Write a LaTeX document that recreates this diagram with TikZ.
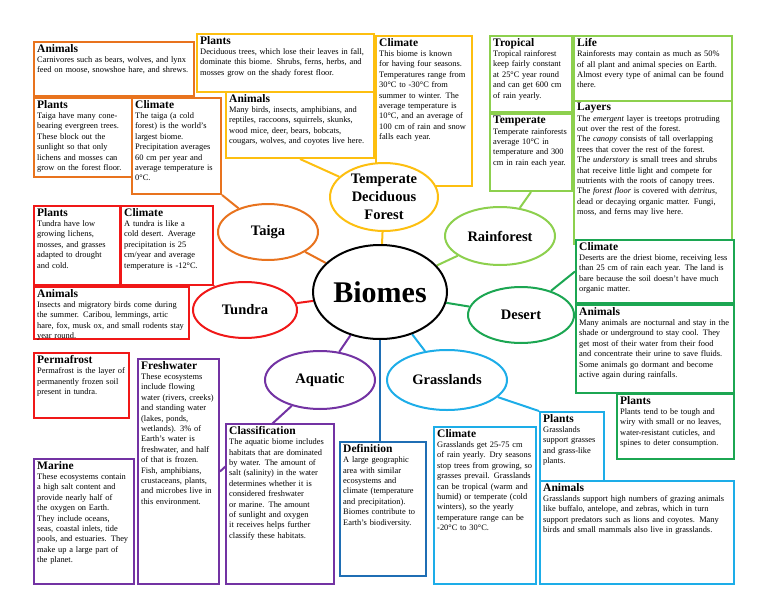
\documentclass[tikz,border=0pt]{standalone}
\usepackage{fontspec}
\setmainfont{Liberation Serif}
\usetikzlibrary{shapes.geometric,backgrounds}
\definecolor{cor}{HTML}{E8731E}
\definecolor{cye}{HTML}{FDBF10}
\definecolor{clg}{HTML}{8DD04E}
\definecolor{cre}{HTML}{F01818}
\definecolor{cpu}{HTML}{7333A3}
\definecolor{cbl}{HTML}{1DADE8}
\definecolor{cdb}{HTML}{1F6EB4}
\definecolor{cdg}{HTML}{1CA652}
\tikzset{
 box/.style={line width=2pt,inner sep=0pt,fill=white},
 txt/.style={inner sep=0pt,align=left,font=\fontsize{8.4}{10.4}\selectfont},
 biome/.style={ellipse,draw,line width=2pt,fill=white,font=\fontsize{14.5}{18}\selectfont\bfseries,align=center,inner sep=0pt},
 link/.style={line width=2pt}
}
\newcommand\ttl[1]{{\fontsize{11.5}{13}\selectfont\bfseries #1}\par}
\newcommand\bx[8]{%
 \node[box,draw=#2,minimum width=#5pt,minimum height=#6pt,anchor=north west] (#1) at (#3,#4) {};
 \node[txt,text width=\dimexpr#5pt-7pt\relax,anchor=north west] at ([xshift=4pt,yshift=-3pt]#1.north west) {\raggedright\lefthyphenmin=64 \righthyphenmin=64 \ttl{#7}#8};}
\begin{document}
\begin{tikzpicture}[x=1pt,y=-1pt]
\useasboundingbox (0,0) rectangle (768,594);
% boxes
\bx{taA}{cor}{33}{41}{160}{54}{Animals}{Carnivores such as bears, wolves, and lynx feed on moose, snowshoe hare, and shrews.}
\bx{taP}{cor}{33}{97}{98}{79}{Plants}{Taiga have many cone-bearing evergreen trees. These block out the sunlight so that only lichens and mosses can grow on the forest floor.}
\bx{taC}{cor}{131}{97}{89}{96}{Climate}{The taiga (a cold forest) is the world's largest biome. Precipitation averages 60 cm per year and average temperature is 0°C.}
\bx{tdP}{cye}{196}{33}{177}{58}{Plants}{Deciduous trees, which lose their leaves in fall, dominate this biome. Shrubs, ferns, herbs, and mosses grow on the shady forest floor.}
\bx{tdA}{cye}{225}{91}{148}{66}{Animals}{Many birds, insects, amphibians, and reptiles, raccoons, squirrels, skunks, wood mice, deer, bears, bobcats, cougars, wolves, and coyotes live here.}
\bx{tdC}{cye}{375}{35}{96}{150}{Climate}{This biome is known for having four seasons. Temperatures range from 30°C to -30°C from summer to winter. The average temperature is 10°C, and an average of 100 cm of rain and snow falls each year.}
\bx{rfT}{clg}{489}{35}{82}{76}{Tropical}{Tropical rainforest keep fairly constant at 25°C year round and can get 600 cm of rain yearly.}
\bx{rfL}{clg}{573}{35}{158}{65}{Life}{Rainforests may contain as much as 50\% of all plant and animal species on Earth. Almost every type of animal can be found there.}
\bx{rfTe}{clg}{489}{113}{82}{77}{Temperate}{Temperate rainforests average 10°C in temperature and 300 cm in rain each year.}
\bx{rfLa}{clg}{573}{100}{158}{143}{Layers}{The \emph{emergent} layer is treetops protruding out over the rest of the forest.\\The \emph{canopy} consists of tall overlapping trees that cover the rest of the forest.\\The \emph{understory} is small trees and shrubs that receive little light and compete for nutrients with the roots of canopy trees.\\The \emph{forest floor} is covered with \emph{detritus}, dead or decaying organic matter. Fungi, moss, and ferns may live here.}
\bx{tuP}{cre}{33}{205}{86}{79}{Plants}{Tundra have low growing lichens, mosses, and grasses adapted to drought and cold.}
\bx{tuC}{cre}{120}{205}{92}{79}{Climate}{A tundra is like a cold desert. Average precipitation is 25 cm/year and average temperature is -12°C.}
\bx{tuA}{cre}{33}{286}{155}{52}{Animals}{Insects and migratory birds come during the summer. Caribou, lemmings, artic hare, fox, musk ox, and small rodents stay year round.}
\bx{tuPe}{cre}{33}{352}{95}{65}{Permafrost}{Permafrost is the layer of permanently frozen soil present in tundra.}
\bx{aqM}{cpu}{33}{458}{100}{125}{Marine}{These ecosystems contain a high salt content and provide nearly half of the oxygen on Earth. They include oceans, seas, coastal inlets, tide pools, and estuaries. They make up a large part of the planet.}
\bx{aqF}{cpu}{137}{358}{81}{225}{Freshwater}{These ecosystems include flowing water (rivers, creeks) and standing water (lakes, ponds, wetlands). 3\% of Earth's water is freshwater, and half of that is frozen. Fish, amphibians, crustaceans, plants, and microbes live in this environment.}
\bx{aqC}{cpu}{225}{423}{108}{160}{Classification}{The aquatic biome includes habitats that are dominated by water. The amount of salt (salinity) in the water determines whether it is considered freshwater or marine. The amount of sunlight and oxygen it receives helps further classify these habitats.}
\bx{def}{cdb}{339}{441}{86}{134}{Definition}{A large geographic area with similar ecosystems and climate (temperature and precipitation). Biomes contribute to Earth's biodiversity.}
\bx{grC}{cbl}{433}{426}{102}{157}{Climate}{Grasslands get 25-75 cm of rain yearly. Dry seasons stop trees from growing, so grasses prevail. Grasslands can be tropical (warm and humid) or temperate (cold winters), so the yearly temperature range can be -20°C to 30°C.}
\bx{grP}{cbl}{539}{411}{64}{69}{Plants}{Grasslands support grasses and grass-like plants.}
\bx{grA}{cbl}{539}{480}{194}{103}{Animals}{Grasslands support high numbers of grazing animals like buffalo, antelope, and zebras, which in turn support predators such as lions and coyotes. Many birds and small mammals also live in grasslands.}
\bx{deP}{cdg}{616}{393}{117}{65}{Plants}{Plants tend to be tough and wiry with small or no leaves, water-resistant cuticles, and spines to deter consumption.}
\bx{deC}{cdg}{575}{239}{158}{63}{Climate}{Deserts are the driest biome, receiving less than 25 cm of rain each year. The land is bare because the soil doesn't have much organic matter.}
\bx{deA}{cdg}{575}{304}{158}{88}{Animals}{Many animals are nocturnal and stay in the shade or underground to stay cool. They get most of their water from their food and concentrate their urine to save fluids. Some animals go dormant and become active again during rainfalls.}
% ellipses
\node[biome,draw=black,minimum width=134pt,minimum height=94pt,font=\fontsize{30}{32}\selectfont\bfseries] (bio) at (380,292) {Biomes};
\node[biome,draw=cor,minimum width=100pt,minimum height=56pt] (taiga) at (268,232) {Taiga};
\node[biome,draw=cye,minimum width=108pt,minimum height=68pt] (tdf) at (384,197) {Temperate\\Deciduous\\Forest};
\node[biome,draw=clg,minimum width=110pt,minimum height=58pt] (rain) at (500,236) {Rainforest};
\node[biome,draw=cre,minimum width=104pt,minimum height=56pt] (tundra) at (245,310) {Tundra};
\node[biome,draw=cdg,minimum width=106pt,minimum height=56pt] (desert) at (521,315) {Desert};
\node[biome,draw=cpu,minimum width=110pt,minimum height=58pt] (aqua) at (320,380) {Aquatic};
\node[biome,draw=cbl,minimum width=120pt,minimum height=60pt] (grass) at (447,380) {Grasslands};
% connectors
\begin{scope}[on background layer]
\draw[link,cor] (bio) -- (taiga);
\draw[link,cor] (taiga) -- (taC.south east);
\draw[link,cye] (bio) -- (tdf);
\draw[link,cye] (tdf) -- (tdA.south);
\draw[link,clg] (bio) -- (rain);
\draw[link,clg] (rain) -- (rfTe.south);
\draw[link,cre] (bio) -- (tundra);
\draw[link,cre] (tundra) -- (tuC.south east);
\draw[link,cdg] (bio) -- (desert);
\draw[link,cdg] (desert) -- (deC.west);
\draw[link,cpu] (bio) -- (aqua);
\draw[link,cpu] (aqua) -- (aqF.east);
\draw[link,cbl] (bio) -- (grass);
\draw[link,cbl] (grass) -- (grP.north west);
\draw[link,cdb] (bio.south) -- (def.north -| bio.south);
\end{scope}
\end{tikzpicture}
\end{document}
